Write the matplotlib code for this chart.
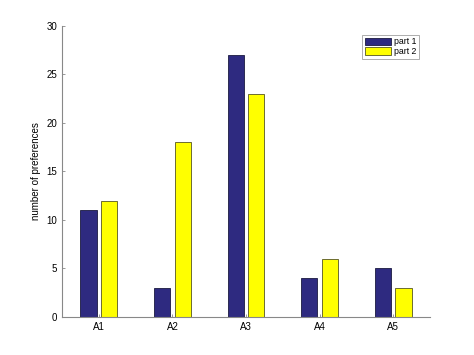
import numpy as np
import matplotlib
matplotlib.use('Agg')
import matplotlib.pyplot as plt

plt.rcParams['font.family'] = ['Liberation Sans', 'DejaVu Sans']

categories = ['A1', 'A2', 'A3', 'A4', 'A5']
part1 = [11, 3, 27, 4, 5]
part2 = [12, 18, 23, 6, 3]

fig = plt.figure(figsize=(4.74, 3.55), dpi=100)
ax = fig.add_axes([0.131, 0.107, 0.776, 0.82])

x = np.arange(1, len(categories) + 1)
w = 0.22
ax.bar(x - 0.14, part1, w, color='#2e2a80', edgecolor='#1a1a40', linewidth=0.6, label='part 1')
ax.bar(x + 0.14, part2, w, color='#ffff00', edgecolor='#555522', linewidth=0.6, label='part 2')

ax.set_xlim(0.5, 5.5)
ax.set_ylim(0, 30)
ax.set_xticks(x)
ax.set_xticklabels(categories)
ax.set_yticks(range(0, 31, 5))
ax.set_ylabel('number of preferences', fontsize=7)
ax.tick_params(direction='in', length=2, labelsize=7, color='#888888', width=0.6)
for s in ['top', 'right']:
    ax.spines[s].set_visible(False)
for s in ['left', 'bottom']:
    ax.spines[s].set_color('#888888')
    ax.spines[s].set_linewidth(0.8)

leg = ax.legend(loc='upper right', bbox_to_anchor=(0.97, 0.97), fontsize=6.3,
                frameon=True, fancybox=False, handlelength=3, handleheight=0.9,
                borderpad=0.3, labelspacing=0.1, handletextpad=0.3, borderaxespad=0)
leg.get_frame().set_edgecolor('#888888')
leg.get_frame().set_linewidth(0.6)

fig.savefig('out.png', dpi=100)
